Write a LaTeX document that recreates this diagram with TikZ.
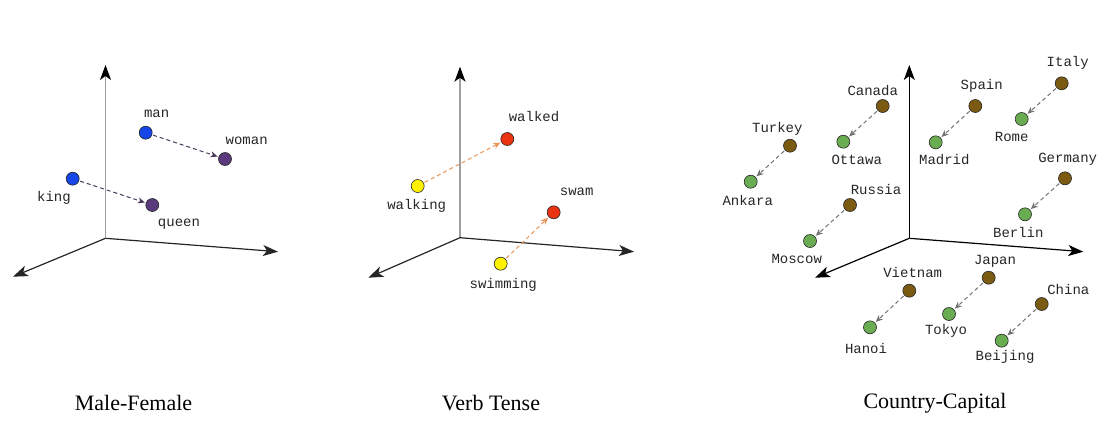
\documentclass[tikz,border=0pt]{standalone}
\usepackage{fontspec}
\setmainfont{Liberation Serif}
\newfontfamily\monof{Liberation Mono}
\usetikzlibrary{arrows.meta}
\definecolor{cblue}{HTML}{1646E8}
\definecolor{cpurple}{HTML}{5A3A7C}
\definecolor{cyellow}{HTML}{FFF200}
\definecolor{cred}{HTML}{EA3310}
\definecolor{cbrown}{HTML}{7B5A12}
\definecolor{cgreen}{HTML}{6AAC52}
\definecolor{corange}{HTML}{E8955A}
\definecolor{cmpurp}{HTML}{4A3A5C}
\tikzset{
  dot/.style={circle,inner sep=0pt,minimum size=13pt,draw=black!85,line width=0.6pt},
  lbl/.style={font=\monof\fontsize{14}{14}\selectfont,inner sep=0pt,anchor=center,text=black!85},
  captxt/.style={font=\fontsize{22}{22}\selectfont,inner sep=0pt},
  axis/.style={line width=1.2pt,-{Stealth[length=15pt,width=11pt,inset=4pt]}},
  vec/.style={line width=1pt,dash pattern=on 4pt off 3pt,-{Stealth[length=7pt,width=6pt,inset=2pt]},shorten >=1pt,shorten <=1pt},
}
\begin{document}
\begin{tikzpicture}[x=1pt,y=-1pt]
\useasboundingbox (0,0) rectangle (1112,424);
% ---------- Panel 1 ----------
\coordinate (o1) at (105.5,238.3);
\coordinate (u1) at (105.5,65);
\coordinate (r1) at (278,251.7);
\coordinate (l1) at (13,276.7);
\draw[axis,gray!75,-{Stealth[length=15pt,width=11pt,inset=4pt,black]}] (o1) -- (u1);
\draw[axis,black!85] (o1) -- (r1);
\draw[axis,black!85] (o1) -- (l1);
\node[dot,fill=cblue] (man) at (145.7,132.7) {};
\node[dot,fill=cpurple] (woman) at (225,159) {};
\node[dot,fill=cblue] (king) at (72.7,178.7) {};
\node[dot,fill=cpurple] (queen) at (152.3,205) {};
\draw[vec,cmpurp] (man) -- (woman);
\draw[vec,cmpurp] (king) -- (queen);
\node[lbl] (tman) at (156.7,113.3) {man};
\node[lbl] (twoman) at (246.7,140.7) {woman};
\node[lbl] (tking) at (54,198.3) {king};
\node[lbl] (tqueen) at (179,224) {queen};
% ---------- Panel 2 ----------
\coordinate (o2) at (460,237.7);
\coordinate (u2) at (460,66.7);
\coordinate (r2) at (634,251.7);
\coordinate (l2) at (368.3,277.7);
\draw[axis,gray!75,-{Stealth[length=15pt,width=11pt,inset=4pt,black]}] (o2) -- (u2);
\draw[axis,black!85] (o2) -- (r2);
\draw[axis,black!85] (o2) -- (l2);
\node[dot,fill=cred] (walked) at (507.3,139) {};
\node[dot,fill=cyellow] (walking) at (417.7,186) {};
\node[dot,fill=cred] (swam) at (553.7,212.3) {};
\node[dot,fill=cyellow] (swimming) at (500.7,263.7) {};
\draw[vec,corange] (walking) -- (walked);
\draw[vec,corange] (swimming) -- (swam);
\node[lbl] (twalked) at (534,116.7) {walked};
\node[lbl] (twalking) at (416.7,205.5) {walking};
\node[lbl] (tswam) at (576.7,191.7) {swam};
\node[lbl] (tswimming) at (503.3,285) {swimming};
% ---------- Panel 3 ----------
\coordinate (o3) at (909.3,238.3);
\coordinate (u3) at (909.3,65);
\coordinate (r3) at (1083.3,251.7);
\coordinate (l3) at (815,277.7);
\draw[axis,black] (o3) -- (u3);
\draw[axis,black] (o3) -- (r3);
\draw[axis,black] (o3) -- (l3);
\foreach \cn/\cx/\cy/\pn/\px/\py in {
  canada/882.7/106/ottawa/843.3/141.7,
  turkey/790/145.7/ankara/750.7/181.7,
  spain/975.3/106/madrid/935.7/142.3,
  italy/1061.7/83.3/rome/1021.7/119,
  germany/1065/178.3/berlin/1025/214.3,
  russia/850/205/moscow/810/241,
  vietnam/909.3/290.7/hanoi/870/327.3,
  japan/988.7/277.7/tokyo/949/314,
  china/1041.7/304/beijing/1001.7/340.7}{
  \node[dot,fill=cbrown] (\cn) at (\cx,\cy) {};
  \node[dot,fill=cgreen] (\pn) at (\px,\py) {};
  \draw[vec,gray!90!black] (\cn) -- (\pn);
}
\node[lbl] (tcanada) at (872.7,90.7) {Canada};
\node[lbl] (tottawa) at (856.7,160) {Ottawa};
\node[lbl] (tturkey) at (777.3,129) {Turkey};
\node[lbl] (tankara) at (747.7,200) {Ankara};
\node[lbl] (tspain) at (981.7,85.7) {Spain};
\node[lbl] (tmadrid) at (944.3,160) {Madrid};
\node[lbl] (titaly) at (1067.7,63.3) {Italy};
\node[lbl] (trome) at (1011.7,137.3) {Rome};
\node[lbl] (tgermany) at (1067.7,159.3) {Germany};
\node[lbl] (tberlin) at (1018.3,232.7) {Berlin};
\node[lbl] (trussia) at (876,189.3) {Russia};
\node[lbl] (tmoscow) at (796.7,259.3) {Moscow};
\node[lbl] (tvietnam) at (912.7,272.7) {Vietnam};
\node[lbl] (thanoi) at (866,348.3) {Hanoi};
\node[lbl] (tjapan) at (995,261) {Japan};
\node[lbl] (ttokyo) at (946,331) {Tokyo};
\node[lbl] (tchina) at (1068.3,289) {China};
\node[lbl] (tbeijing) at (1005,356.7) {Beijing};
% ---------- Captions ----------
\node[captxt] (c1) at (133.5,403) {Male-Female};
\node[captxt] (c2) at (491,403) {Verb Tense};
\node[captxt] (c3) at (935,403) {Country-Capital};
\end{tikzpicture}
\end{document}
